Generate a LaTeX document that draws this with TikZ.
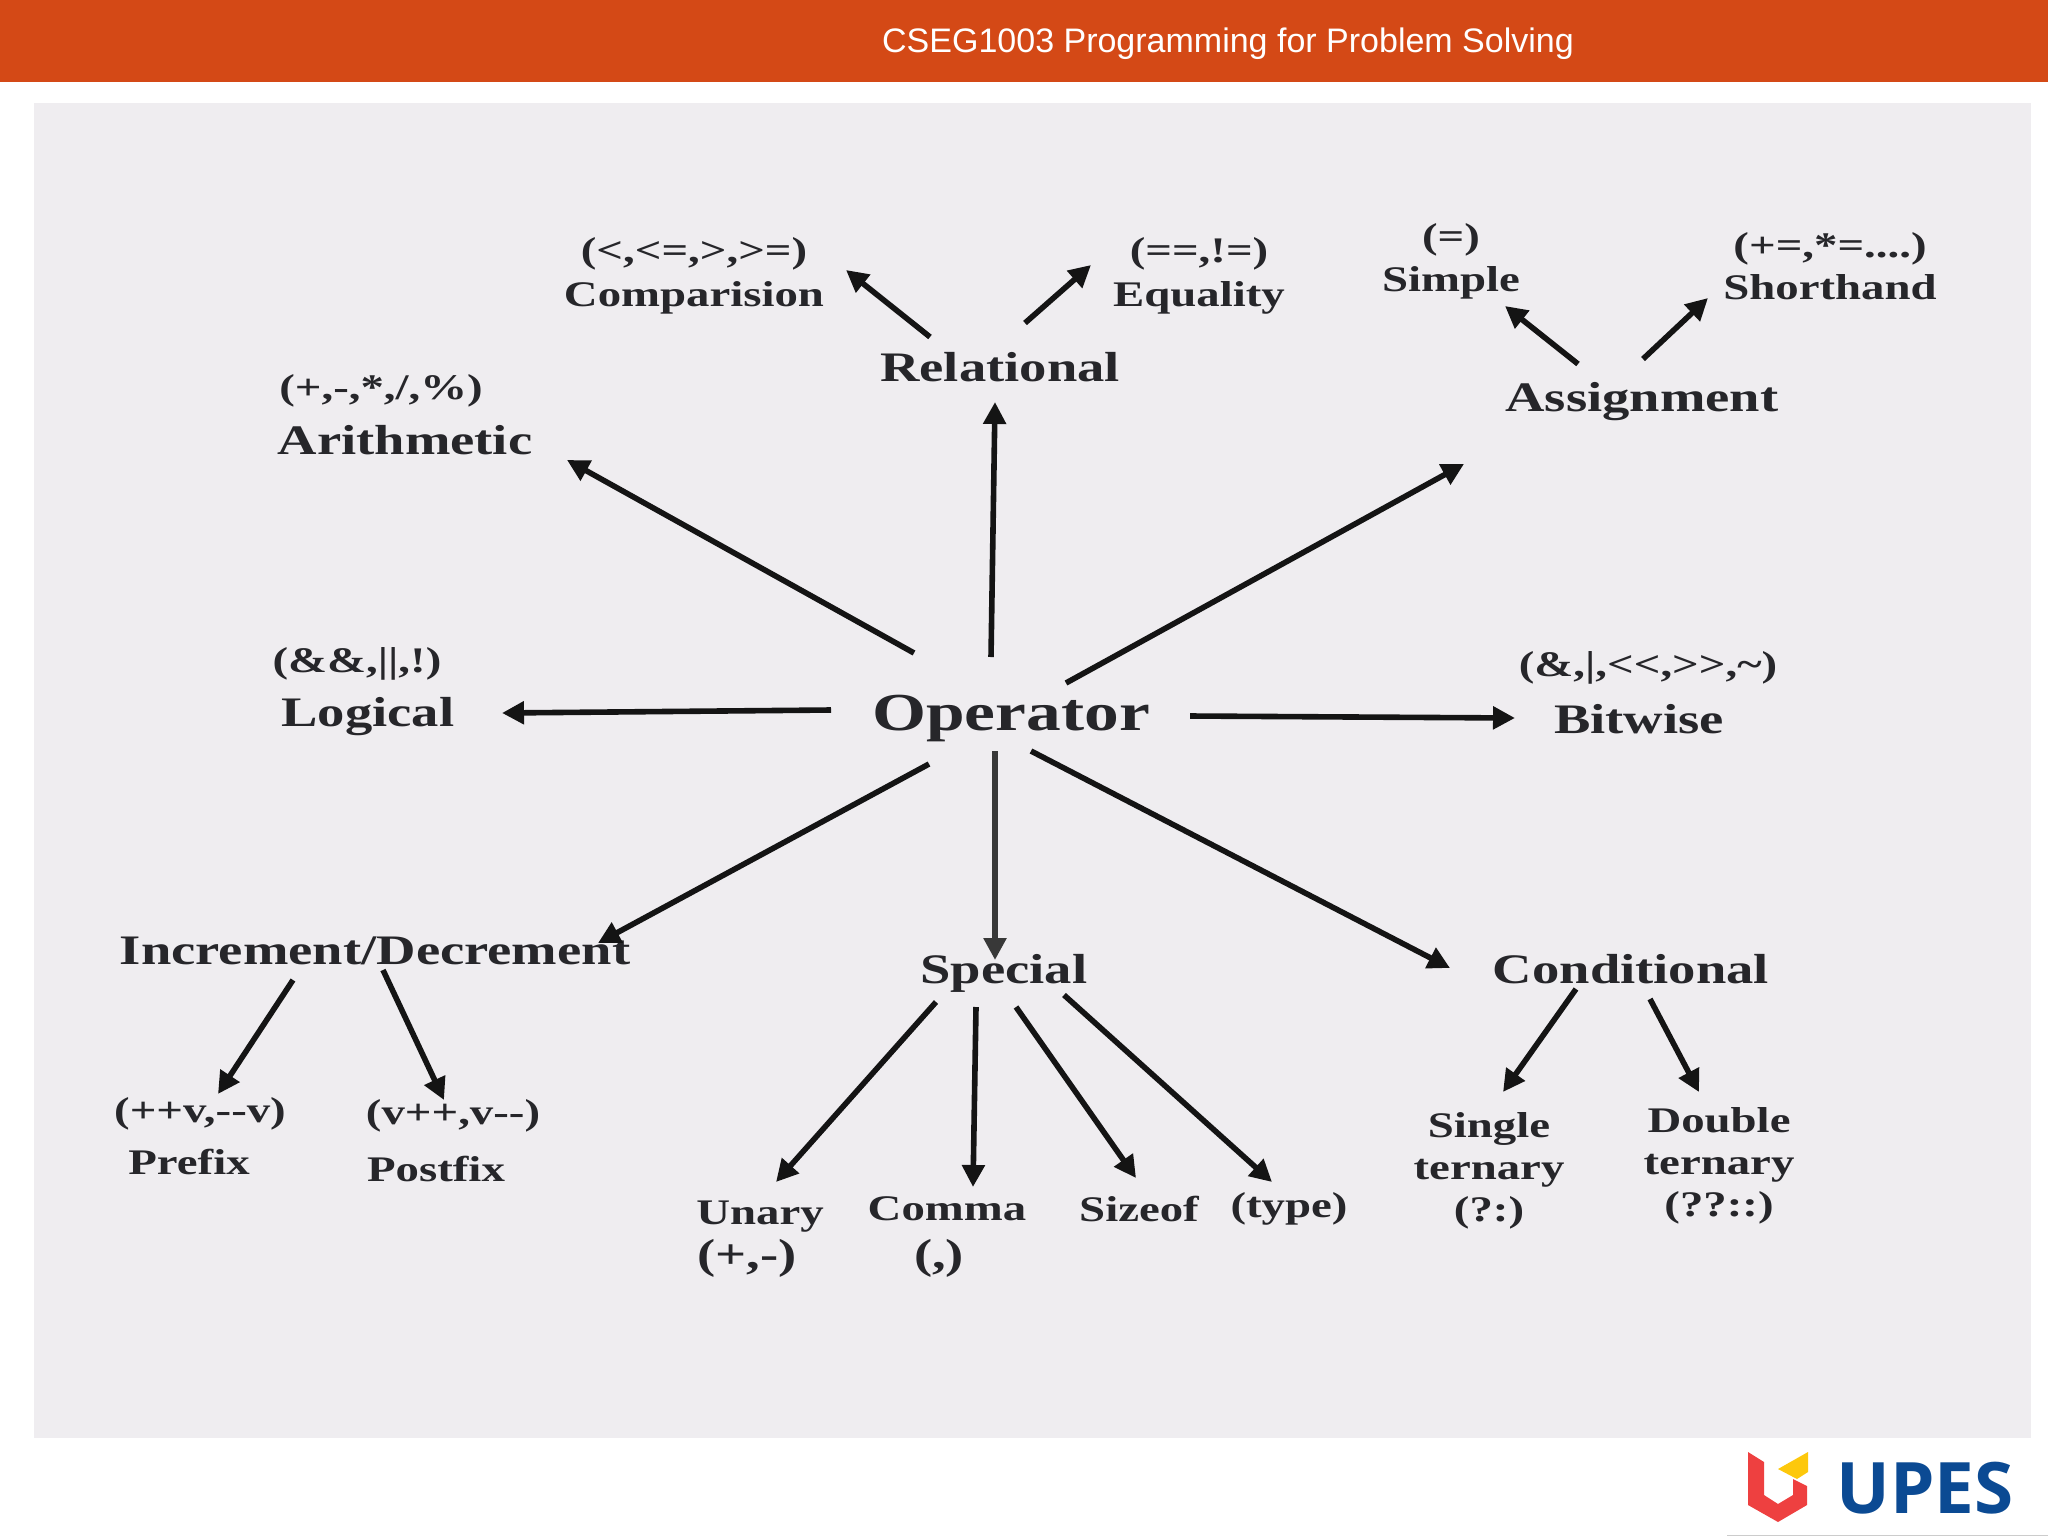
\documentclass[tikz,border=0pt]{standalone}
\usepackage{fontspec}
\usetikzlibrary{arrows.meta}
\setmainfont{Liberation Serif}
\newfontfamily\widefont[FakeStretch=1.3]{Liberation Serif}
\newfontfamily\headfont{Liberation Sans}
\newfontfamily\logofont{Open Sans}
\definecolor{band}{HTML}{D44916}
\definecolor{panel}{HTML}{EFEDF0}
\definecolor{ink}{HTML}{26262A}
\definecolor{logored}{HTML}{EE4040}
\definecolor{logoyel}{HTML}{FDC80C}
\definecolor{logoblue}{HTML}{0B4A93}
\tikzset{
  x=0.5pt,y=-0.5pt,
  lab/.style={inner sep=0pt,text=ink,align=center,font=\widefont\bfseries\fontsize{18}{21}\selectfont},
  big/.style={lab,font=\widefont\bfseries\fontsize{21}{24}\selectfont},
  sym/.style={lab,font=\widefont\bfseries\fontsize{18}{21}\selectfont},
  symbig/.style={lab,font=\widefont\bfseries\fontsize{21}{24}\selectfont},
  root/.style={lab,font=\widefont\bfseries\fontsize{26.7}{30}\selectfont},
  conn/.style={draw=black!92,line width=2.8pt,-{Triangle[length=11pt,width=11pt]}},
  heavy/.style={conn,draw=black!78,line width=3.4pt},
}
\begin{document}
\begin{tikzpicture}
\useasboundingbox (0,0) rectangle (2048,1536);
\fill[white] (0,0) rectangle (2048,1536);
\fill[band] (0,0) rectangle (2048,82);
\fill[panel] (34,103) rectangle (2031,1438);
\node[inner sep=0pt,text=white,font=\headfont\fontsize{17}{20}\selectfont] (title) at (1228,44) {CSEG1003 Programming for Problem Solving};
% labels
\node[sym] (compsym) at (694,254) {(<,<=,>,>=)};
\node[lab] (comp) at (694,298) {Comparision};
\node[sym] (eqsym) at (1199,254) {(==,!=)};
\node[lab] (eq) at (1199,298) {Equality};
\node[sym] (simsym) at (1451,240) {(=)};
\node[lab] (sim) at (1451,283) {Simple};
\node[sym] (shosym) at (1830,249) {(+=,*=....)};
\node[lab] (sho) at (1830,287) {Shorthand};
\node[big] (rel) at (1000,367) {Relational};
\node[big] (asg) at (1642,402) {Assignment};
\node[sym] (arisym) at (381,391) {(+,-,*,/,\%)};
\node[big] (ari) at (405,440) {Arithmetic};
\node[sym] (logsym) at (357,664) {(\&\&,||,!)};
\node[big] (log) at (368,717) {Logical};
\node[root] (op) at (1011,718) {Operator};
\node[sym] (bitsym) at (1648,668) {(\&,|,<<,>>,\textasciitilde)};
\node[big] (bit) at (1639,719) {Bitwise};
\node[big] (inc) at (375,951) {Increment/Decrement};
\node[big] (spe) at (1004,973) {Special};
\node[big] (con) at (1631,969) {Conditional};
\node[sym] (presym) at (200,1114) {(++v,{-}{-}v)};
\node[lab] (pre) at (189,1162) {Prefix};
\node[sym] (possym) at (453,1116) {(v++,v{-}{-})};
\node[lab] (pos) at (436,1169) {Postfix};
\node[lab] (una) at (760,1217) {Unary};
\node[symbig] (unasym) at (747,1258) {(+,-)};
\node[lab] (com) at (947,1209) {Comma};
\node[symbig] (comsym) at (939,1258) {(,)};
\node[lab] (siz) at (1139,1209) {Sizeof};
\node[lab] (typ) at (1289,1209) {(type)};
\node[lab] (sin) at (1489,1171) {Single\\ternary\\(?:)};
\node[lab] (dou) at (1719,1166) {Double\\ternary\\(??::)};
% connectors
\draw[conn] ([shift={(-97,-65)}]op.center) -- ([shift={(162,20)}]ari.center);
\draw[conn] ([shift={(-20,-61)}]op.center) -- ([shift={(-5,35)}]rel.center);
\draw[conn] ([shift={(55,-35)}]op.center) -- ([shift={(-178,62)}]asg.center);
\draw[conn] ([shift={(-180,-8)}]op.center) -- ([shift={(134,-4)}]log.center);
\draw[conn] ([shift={(179,-2)}]op.center) -- ([shift={(-124,-1)}]bit.center);
\draw[conn] ([shift={(-82,46)}]op.center) -- ([shift={(223,-8)}]inc.center);
\draw[heavy] ([shift={(-16,33)}]op.center) -- ([shift={(-9,-13)}]spe.center);
\draw[conn] ([shift={(20,33)}]op.center) -- ([shift={(-181,-1)}]con.center);
\draw[conn] ([shift={(-70,-30)}]rel.center) -- ([shift={(152,-28)}]comp.center);
\draw[conn] ([shift={(25,-44)}]rel.center) -- ([shift={(-108,-33)}]eq.center);
\draw[conn] ([shift={(-64,-38)}]asg.center) -- ([shift={(54,23)}]sim.center);
\draw[conn] ([shift={(1,-43)}]asg.center) -- ([shift={(-122,11)}]sho.center);
\draw[conn] ([shift={(-82,29)}]inc.center) -- ([shift={(18,-20)}]presym.center);
\draw[conn] ([shift={(8,19)}]inc.center) -- ([shift={(-9,-16)}]possym.center);
\draw[conn] ([shift={(-68,29)}]spe.center) -- ([shift={(16,-35)}]una.center);
\draw[conn] ([shift={(-28,34)}]spe.center) -- ([shift={(26,-22)}]com.center);
\draw[conn] ([shift={(12,34)}]spe.center) -- ([shift={(-3,-31)}]siz.center);
\draw[conn] ([shift={(60,22)}]spe.center) -- ([shift={(-17,-27)}]typ.center);
\draw[conn] ([shift={(-55,20)}]con.center) -- ([shift={(14,-79)}]sin.center);
\draw[conn] ([shift={(19,30)}]con.center) -- ([shift={(-20,-74)}]dou.center);
% logo
\fill[logored] (1748,1452) -- (1764,1462) -- (1764,1495) -- (1778,1504) -- (1793,1495) -- (1793,1479) -- (1807,1486) -- (1807,1505) -- (1778,1522) -- (1748,1505) -- cycle;
\fill[logoyel] (1778,1469) -- (1808,1452) -- (1808,1472) -- (1797,1479) -- cycle;
\node[inner sep=0pt,text=logoblue,font=\logofont\bfseries\fontsize{35.5}{38}\selectfont] (upes) at (1925,1488) {UPES};
\draw[black!20,line width=0.5pt] (1727,1535) -- (2048,1535);
\end{tikzpicture}
\end{document}
